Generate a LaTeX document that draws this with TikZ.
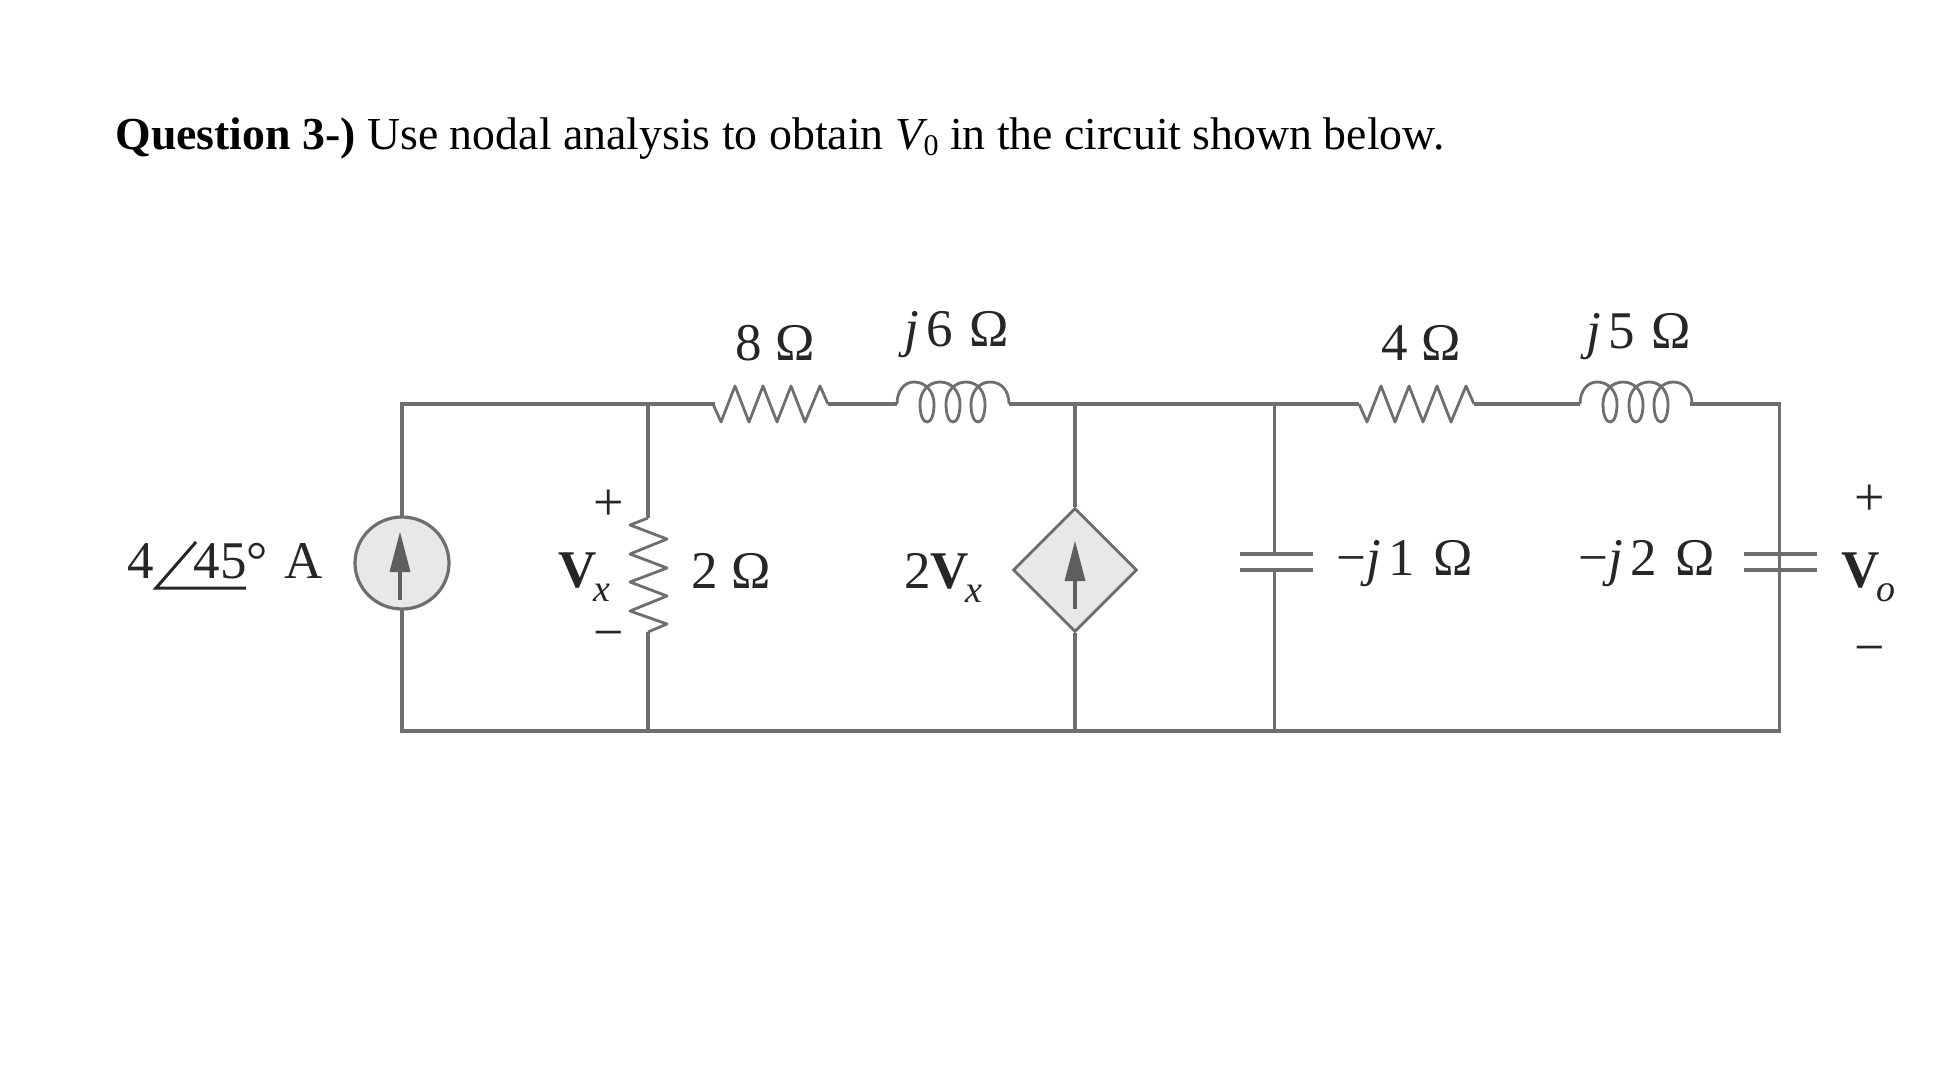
\documentclass[tikz,border=0pt]{standalone}
\usepackage{fontspec}
\setmainfont{Liberation Serif}
\usetikzlibrary{shapes.geometric}
\definecolor{wire}{HTML}{6E6E6E}
\definecolor{srcfill}{HTML}{E8E8E8}
\definecolor{ink}{HTML}{262626}
\newcommand{\Vsub}[1]{{\bfseries V}\kern-1.8pt\raisebox{-7pt}{\fontsize{19}{22}\selectfont\itshape #1}}
\newcommand{\jay}{\textit{j}\kern3.5pt}
\tikzset{
  x=0.5pt,y=-0.5pt,
  wireline/.style={draw=wire,line width=1.6pt,line join=miter},
  thinline/.style={draw=wire,line width=1.4pt,line join=round},
  lbl/.style={inner sep=0pt,anchor=base west,text=ink,font=\fontsize{26.5}{30}\selectfont},
  sign/.style={inner sep=0pt,anchor=center,text=ink,font=\fontsize{27}{30}\selectfont},
  title/.style={inner sep=0pt,anchor=base west,text=black,font=\fontsize{22.9}{26}\selectfont},
  isource/.style={ellipse,draw=wire,fill=srcfill,line width=1.6pt,minimum width=47pt,minimum height=46pt,inner sep=0pt},
  dsource/.style={diamond,draw=wire,fill=srcfill,line width=1.4pt,minimum width=62pt,minimum height=62pt,inner sep=0pt},
  resh/.pic={\draw[thinline] (0,0)--(8,18)--(22,-18)--(36,18)--(50,-18)--(64,18)--(78,-18)--(92,18)--(107,-18)--(115,0);},
  coil/.pic={\draw[thinline] (0,0) .. controls (0,-14) and (8,-22) .. (17,-22)
     .. controls (29,-22) and (37,-12) .. (37,0) .. controls (37,11) and (34,18) .. (30,18)
     .. controls (26,18) and (23,11) .. (23,0) .. controls (23,-13) and (32,-22) .. (43,-22)
     .. controls (55,-22) and (63,-12) .. (63,0) .. controls (63,11) and (60,18) .. (56,18)
     .. controls (52,18) and (49,11) .. (49,0) .. controls (49,-13) and (58,-22) .. (69,-22)
     .. controls (81,-22) and (88,-12) .. (88,0) .. controls (88,11) and (85,18) .. (81,18)
     .. controls (77,18) and (74,11) .. (74,0) .. controls (74,-13) and (83,-22) .. (93,-22)
     .. controls (104,-22) and (112,-14) .. (112,0);},
  upjet/.pic={\fill[wire!85!black] (0,0)--(10.5,40)--(-10.5,40)--cycle; \draw[wire!85!black,line width=2pt] (0,38)--(0,68);},
}
\begin{document}
\begin{tikzpicture}
\useasboundingbox (0,0) rectangle (1942,1066);
\fill[white] (0,0) rectangle (1942,1066);

% title
\node[title] (qtitle) at (115,149) {\textbf{Question 3-)} Use nodal analysis to obtain \textit{V}\kern-2pt\raisebox{-3pt}{\fontsize{15}{17}\selectfont 0} in the circuit shown below.};

% junctions
\coordinate (tl) at (402,404); \coordinate (bl) at (402,731);
\coordinate (ta) at (648,404); \coordinate (ba) at (648,731);
\coordinate (tb) at (1075,404); \coordinate (bb) at (1075,731);
\coordinate (tc) at (1274.5,404); \coordinate (bc) at (1274.5,731);
\coordinate (tr) at (1779.5,404); \coordinate (br) at (1779.5,731);
\coordinate (r1a) at (713,404); \coordinate (r1b) at (828,404);
\coordinate (l1a) at (897,404); \coordinate (l1b) at (1009,404);
\coordinate (r2a) at (1359,404); \coordinate (r2b) at (1474,404);
\coordinate (l2a) at (1580,404); \coordinate (l2b) at (1692,404);
\coordinate (r3a) at (648,518); \coordinate (r3b) at (648,632);
\coordinate (c1a) at (1274.5,554); \coordinate (c1b) at (1274.5,570);
\coordinate (c2a) at (1779.5,554); \coordinate (c2b) at (1779.5,570);

% wires
\draw[wireline,line cap=rect] (bl) -- (tl) -- (r1a);
\draw[wireline] (r1b) -- (l1a);
\draw[wireline] (l1b) -- (r2a);
\draw[wireline] (r2b) -- (l2a);
\draw[wireline,line cap=rect] (l2b) -- (tr) -- (br) -- (bl);
\draw[wireline] (ta) -- (r3a);
\draw[wireline] (r3b) -- (ba);

% sources
\node[isource] (src) at (402,563) {};
\node[dsource] (dep) at (1075,570) {};
\draw[wireline] (tb) -- (dep.north);
\draw[wireline] (dep.south) -- (bb);
\draw[wireline] (tc) -- (c1a);
\draw[wireline] (c1b) -- (bc);
\draw[wireline] (tr) -- (c2a);
\draw[wireline] (c2b) -- (br);
\pic at (400,532) {upjet};
\pic at (1075,541) {upjet};

% horizontal elements
\pic at (r1a) {resh};
\pic at (l1a) {coil};
\pic at (r2a) {resh};
\pic at (l2a) {coil};

% 2 ohm resistor
\draw[thinline] (r3a)--(630,525)--(667,539)--(630,554)--(667,568)--(630,582)--(667,596)--(630,611)--(667,624)--(r3b);

% capacitors
\draw[wireline] (1240,554) -- (1313,554);
\draw[wireline] (1240,570) -- (1313,570);
\draw[wireline] (1744,554) -- (1817,554);
\draw[wireline] (1744,570) -- (1817,570);

% phasor angle
\draw[draw=ink,line width=1.5pt,line join=miter] (196,542) -- (156,588) -- (246,588);

% labels
\node[lbl] (lsrc) at (127,578) {4\hspace{20pt}45°\hspace{8pt}A};
\node[lbl] (l8) at (735,360) {8 Ω};
\node[lbl] (lj6) at (904,346) {\jay 6\hspace{2pt} Ω};
\node[lbl] (l4) at (1381,360) {4 Ω};
\node[lbl] (lj5) at (1586,348) {\jay 5\hspace{2pt} Ω};
\node[lbl] (l2) at (691,588) {2 Ω};
\node[lbl] (lg) at (904,588) {2\Vsub{x}};
\node[lbl] (lvx) at (558,587) {\Vsub{x}};
\node[lbl] (lvo) at (1841,587) {\Vsub{o}};
\node[lbl] (lc1) at (1336,575) {−\jay 1\hspace{3pt} Ω};
\node[lbl] (lc2) at (1578,575) {−\jay 2\hspace{3pt} Ω};
\node[sign] (pa) at (609,505) {+};
\node[sign] (ma) at (609,641) {−};
\node[sign] (pb) at (1870,500) {+};
\node[sign] (mb) at (1870,656) {−};
\end{tikzpicture}
\end{document}
